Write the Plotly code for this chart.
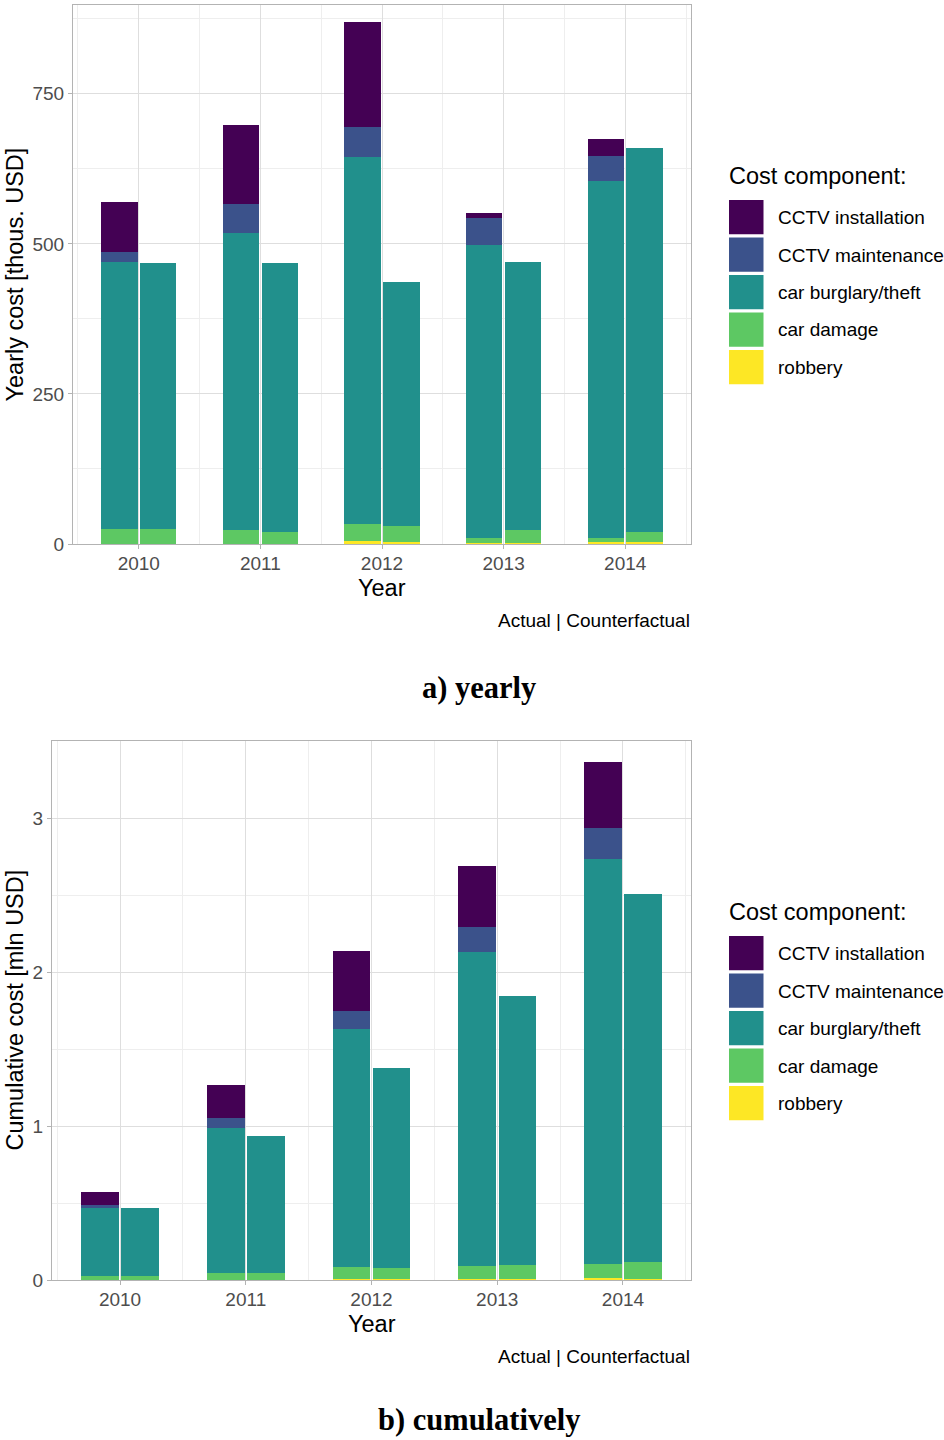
import numpy as np
import plotly.graph_objects as go

# ---------------- data (thousand USD per year) ----------------
years = [2010, 2011, 2012, 2013, 2014]
components = ["CCTV installation", "CCTV maintenance", "car burglary/theft", "car damage", "robbery"]
colors = ["#440154", "#3B528B", "#21908C", "#5DC863", "#FDE725"]

# Actual
install_act = [84, 131, 175, 9, 27]
maint_act = [16.5, 49, 49, 45, 43]
burglary_act = [444, 495, 611, 488, 593.5]
damage_act = [24.7, 22, 29, 8.5, 6.5]
robbery_act = [0.8, 0.8, 5, 1.5, 4]

# Counterfactual
install_cf = [0, 0, 0, 0, 0]
maint_cf = [0, 0, 0, 0, 0]
burglary_cf = [443.5, 449, 407.5, 447.5, 640.5]
damage_cf = [24.7, 19.2, 26.5, 21, 16.5]
robbery_cf = [0.8, 0.8, 3, 2, 3]

yticks_top = [0, 250, 500, 750]
yticks_bot = [0, 1, 2, 3]

actual = dict(zip(components, [install_act, maint_act, burglary_act, damage_act, robbery_act]))
counter = dict(zip(components, [install_cf, maint_cf, burglary_cf, damage_cf, robbery_cf]))

W, H = 944, 1440
def px(x): return x / W
def py(y): return 1 - y / H

DODGE = 0.16
BARW = 0.3
FONT = "Liberation Sans, Arial, sans-serif"

fig = go.Figure()
yrs = np.array(years, dtype=float)
# stacking: first trace at the bottom -> robbery first
for comp, col in reversed(list(zip(components, colors))):
    a = np.array(actual[comp], dtype=float)
    c = np.array(counter[comp], dtype=float)
    for xa, ya, vals in [("x", "y", (a, c)), ("x2", "y2", (np.cumsum(a) / 1000, np.cumsum(c) / 1000))]:
        fig.add_trace(go.Bar(x=yrs - DODGE, y=vals[0], width=BARW, marker=dict(color=col, line=dict(width=0)),
                             name=comp, showlegend=False, xaxis=xa, yaxis=ya))
        fig.add_trace(go.Bar(x=yrs + DODGE, y=vals[1], width=BARW, marker=dict(color=col, line=dict(width=0)),
                             name=comp, showlegend=False, xaxis=xa, yaxis=ya))

xrange = [2009.459, 2014.541]
common_x = dict(range=xrange, tickvals=years, ticktext=[str(y) for y in years],
                showgrid=True, gridcolor="#DEDEDE", gridwidth=1,
                minor=dict(showgrid=True, gridcolor="#EEEEEE", gridwidth=0.8, dtick=0.5, tick0=2009.5),
                showline=True, linecolor="#B3B3B3", linewidth=1, mirror=True,
                ticks="outside", ticklen=4, tickcolor="#B3B3B3", automargin=False,
                ticklabelstandoff=-2,
                tickfont=dict(family=FONT, size=19, color="#4D4D4D"), zeroline=False)
common_y = dict(showgrid=True, gridcolor="#DEDEDE", gridwidth=1,
                showline=True, linecolor="#B3B3B3", linewidth=1, mirror=True,
                ticks="outside", ticklen=4, tickcolor="#B3B3B3", automargin=False,
                tickfont=dict(family=FONT, size=19, color="#4D4D4D"), zeroline=False)

fig.update_layout(
    width=W, height=H, margin=dict(l=0, r=0, t=0, b=0, pad=0, autoexpand=False),
    paper_bgcolor="white", plot_bgcolor="white", barmode="stack", bargap=0,
    showlegend=False, font=dict(family=FONT),
    xaxis=dict(domain=[px(73), px(691)], anchor="y", **common_x),
    yaxis=dict(domain=[py(544), py(5)], anchor="x", range=[0, 898], tickvals=yticks_top,
               minor=dict(showgrid=True, gridcolor="#EEEEEE", gridwidth=0.8, dtick=250, tick0=125),
               **common_y),
    xaxis2=dict(domain=[px(52), px(691)], anchor="y2", **common_x),
    yaxis2=dict(domain=[py(1280), py(741)], anchor="x2", range=[0, 3.5], tickvals=yticks_bot,
                minor=dict(showgrid=True, gridcolor="#EEEEEE", gridwidth=0.8, dtick=1, tick0=0.5),
                **common_y),
)

ann = []
shapes = []
def text(x, y, s, size, xanchor="center", angle=0, color="black", family=FONT):
    ann.append(dict(x=px(x), y=py(y), xref="paper", yref="paper", text=s, showarrow=False,
                    xanchor=xanchor, yanchor="middle", textangle=angle,
                    font=dict(family=family, size=size, color=color)))

for off, ytitle, xc, cap, capy in [(0, "Yearly cost [thous. USD]", 382, "a) yearly", 688),
                                   (736, "Cumulative cost [mln USD]", 371.5, "b) cumulatively", 1420)]:
    text(14, 274.5 + off, ytitle, 23.5, angle=-90)
    text(xc, 588 + off, "Year", 23.5)
    text(692, 620 + off, "Actual | Counterfactual", 19, xanchor="right")
    text(479, capy, "<b>" + cap + "</b>", 30.5, family="Liberation Serif, Times New Roman, serif")
    # legend
    text(727, 176 + off, "Cost component:", 23.5, xanchor="left")
    for i, (comp, col) in enumerate(zip(components, colors)):
        top = 200 + i * 37.5 + off
        shapes.append(dict(type="rect", xref="paper", yref="paper", x0=px(729), x1=px(763.5),
                           y0=py(top + 34.3), y1=py(top), fillcolor=col, line=dict(width=0)))
        text(776, top + 17.5, comp, 19, xanchor="left")

fig.update_layout(annotations=ann, shapes=shapes)
fig.write_html(
    "out.html",
    config={"displayModeBar": False},
    post_script="document.documentElement.style.margin='0px';document.body.style.margin='0px';"
                "document.body.style.padding='0px';document.documentElement.style.overflow='hidden';"
                "document.body.style.overflow='hidden';",
)
